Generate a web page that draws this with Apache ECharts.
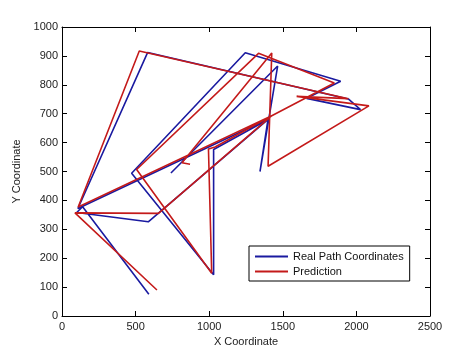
<!DOCTYPE html>
<html>
<head>
<meta charset="utf-8">
<script src="https://cdn.jsdelivr.net/npm/echarts@6/dist/echarts.min.js"></script>
<style>
html,body{margin:0;padding:0;background:#fff;}
#chart{width:474px;height:355px;}
</style>
</head>
<body>
<div id="chart"></div>
<script>
// Real path (blue) vertices, in drawing order
var realX = [590, 140, 100, 586, 1400, 1030, 1030, 473, 1245, 1893, 1662, 2028, 1945, 582, 108, 1400, 1345, 1465, 740];
var realY = [75, 378, 358, 326, 680, 576, 143, 494, 911, 812, 753, 714, 751, 912, 372, 682, 500, 865, 495];
// Prediction (red) vertices, in drawing order
var predX = [645, 88, 655, 1425, 1040, 995, 1017, 507, 1335, 1850, 1425, 110, 525, 1945, 1594, 2085, 1400, 1425, 815, 870];
var predY = [90, 357, 355, 693, 585, 578, 148, 507, 909, 806, 693, 377, 917, 752, 760, 727, 518, 910, 530, 525];
var seriesNames = ['Real Path Coordinates', 'Prediction'];
var xTitle = 'X Coordinate';
var yTitle = 'Y Coordinate';

function pairs(xs, ys) { return xs.map(function (x, i) { return [x, ys[i]]; }); }
function plain(v) { return String(v); }

var chart = echarts.init(document.getElementById('chart'), null, {renderer: 'canvas'});
var axisCommon = {
  type: 'value',
  axisLine: {show: true, onZero: false, lineStyle: {color: '#000', width: 1}},
  axisTick: {show: true, inside: true, length: 5, lineStyle: {color: '#000'}},
  splitLine: {show: false}
};
var font = 'Liberation Sans, Arial, sans-serif';
chart.setOption({
  animation: false,
  backgroundColor: '#fff',
  grid: {left: 62, right: 44, top: 27, bottom: 39, containLabel: false},
  legend: {
    data: [
      {name: seriesNames[0], itemStyle: {color: '#1a1aa0'}},
      {name: seriesNames[1], itemStyle: {color: '#c41a1a'}}
    ],
    orient: 'vertical', left: 249, top: 246,
    icon: 'rect', itemWidth: 33, itemHeight: 2, itemGap: 2, itemTextGap: 4,
    backgroundColor: '#fff', borderColor: '#000', borderWidth: 1,
    padding: [4, 6, 3, 6],
    textStyle: {fontSize: 11, color: '#111', fontFamily: font, lineHeight: 13}
  },
  xAxis: [
    Object.assign({}, axisCommon, {
      min: 0, max: 2500, interval: 500, position: 'bottom',
      axisLabel: {fontSize: 11, color: '#222', margin: 5, fontFamily: font, formatter: plain},
      name: xTitle, nameLocation: 'middle', nameGap: 18,
      nameTextStyle: {fontSize: 11, color: '#222', fontFamily: font}
    }),
    Object.assign({}, axisCommon, {
      min: 0, max: 2500, interval: 500, position: 'top',
      axisLabel: {show: false}
    })
  ],
  yAxis: [
    Object.assign({}, axisCommon, {
      min: 0, max: 1000, interval: 100, position: 'left',
      axisLabel: {fontSize: 11, color: '#222', margin: 4, fontFamily: font, formatter: plain},
      name: yTitle, nameLocation: 'middle', nameGap: 32,
      nameTextStyle: {fontSize: 11, color: '#222', fontFamily: font}
    }),
    Object.assign({}, axisCommon, {
      min: 0, max: 1000, interval: 100, position: 'right',
      axisLabel: {show: false}
    })
  ],
  series: [
    {
      name: seriesNames[0], type: 'line', xAxisIndex: 0, yAxisIndex: 0,
      data: pairs(realX, realY), showSymbol: false, symbol: 'none',
      lineStyle: {color: '#1a1aa0', width: 1.6}, itemStyle: {color: '#1a1aa0'}
    },
    {
      name: seriesNames[1], type: 'line', xAxisIndex: 0, yAxisIndex: 0,
      data: pairs(predX, predY), showSymbol: false, symbol: 'none',
      lineStyle: {color: '#c41a1a', width: 1.6}, itemStyle: {color: '#c41a1a'}
    }
  ]
});
</script>
</body>
</html>
